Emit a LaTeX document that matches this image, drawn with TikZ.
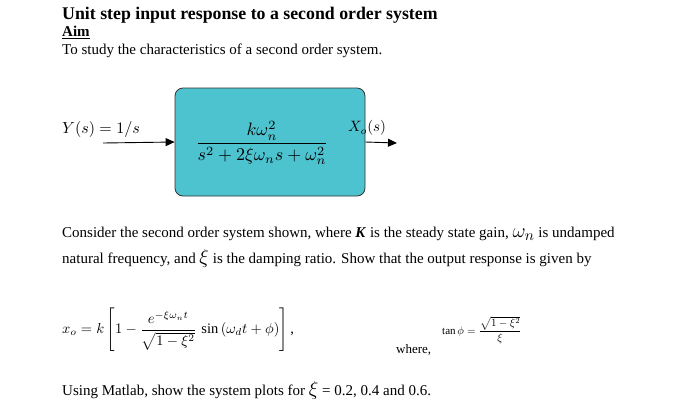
\documentclass[tikz,border=0pt]{standalone}
\usepackage{amsmath}
\usepackage{graphicx}
\usepackage{fontspec}
\setmainfont{Liberation Serif}
\usetikzlibrary{arrows.meta}
\newcommand{\mym}[1]{\scalebox{1.4}{$#1$}}
\begin{document}
\begin{tikzpicture}[x=1pt,y=-1pt,
  txt/.style={anchor=west,inner sep=0pt,font=\fontsize{15}{18}\selectfont},
  mth/.style={anchor=west,inner sep=0pt},
  arr/.style={-{Triangle[length=9pt,width=8pt]},line width=0.9pt}]
\useasboundingbox[fill=white] (0,0) rectangle (700,418);
\node[txt,font=\bfseries\fontsize{17.8}{20}\selectfont] (title) at (62,15) {Unit step input response to a second order system};
\node[txt,font=\bfseries\fontsize{15}{18}\selectfont] (aim) at (62,33) {\underline{Aim}};
\node[txt] (study) at (62,51) {To study the characteristics of a second order system.};
\node[draw=black!80,line width=0.8pt,fill={rgb,255:red,78;green,195;blue,208},rounded corners=8pt,minimum width=190pt,minimum height=108pt] (blk) at (270,142) {};
\node[inner sep=0pt] (tf) at (262,143) {\scalebox{1.8}{$\dfrac{k\omega_n^2}{s^2+2\xi\omega_n s+\omega_n^2}$}};
\coordinate (in) at (103,143);
\coordinate (out) at (397,143);
\draw[arr] (in) -- (blk.west);
\draw[arr] (blk.east) -- (out);
\node[mth] (ys) at (62,129) {\scalebox{1.6}{$Y(s)=1/s$}};
\node[mth] (xs) at (348,128) {\scalebox{1.5}{$X_o(s)$}};
\node[txt] (p1) at (62,234) {Consider the second order system shown, where \textit{\textbf{K}} is the steady state gain, \mym{\omega_n} is undamped};
\node[txt] (p2) at (62,258) {natural frequency, and \mym{\xi} is the damping ratio. Show that the output response is given by};
\node[mth] (eq) at (62,330) {\scalebox{1.45}{$x_o=k\left[1-\dfrac{e^{-\xi\omega_n t}}{\sqrt{1-\xi^2}}\,\sin\left(\omega_d t+\phi\right)\right]$\,,}};
\node[txt,font=\fontsize{13}{15}\selectfont] (where) at (396,350) {where,};
\node[mth] (tan) at (442,330) {\scalebox{1.1}{$\tan\phi=\dfrac{\sqrt{1-\xi^2}}{\xi}$}};
\node[txt] (last) at (62,390) {Using Matlab, show the system plots for \mym{\xi} = 0.2, 0.4 and 0.6.};
\end{tikzpicture}
\end{document}
